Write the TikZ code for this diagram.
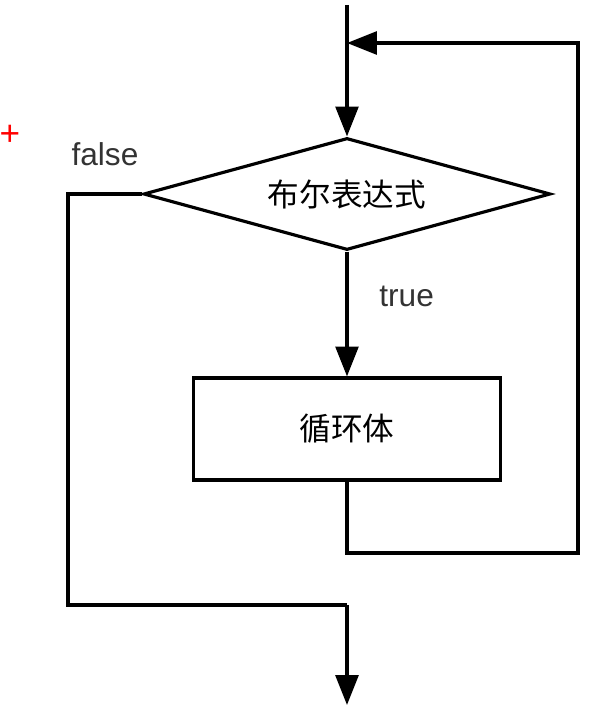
\documentclass[tikz,border=0pt]{standalone}
\usepackage{fontspec}
\setmainfont{Liberation Sans}
\newfontfamily\cjk{Noto Sans CJK SC}
\usetikzlibrary{shapes.geometric, arrows.meta, positioning}

\begin{document}
\begin{tikzpicture}[
    cond/.style={diamond, draw, line width=0.9pt, inner sep=0pt, aspect=3.63, minimum width=4.07cm, minimum height=1.12cm, font=\cjk\fontsize{9}{11}\selectfont, fill=white},
    box/.style={rectangle, draw, line width=0.9pt, minimum width=3.07cm, minimum height=1.02cm, font=\cjk\fontsize{9}{11}\selectfont},
    lbl/.style={font=\fontsize{9}{11}\selectfont, text=black!80},
    line/.style={line width=0.9pt},
    arrow/.style={line width=0.9pt, -{Triangle[length=8.5pt, width=6.5pt]}}
]
\useasboundingbox (0,0) rectangle (6.16,7.18);

% Nodes
\coordinate (start) at (3.47, 7.13);
\node[cond] (test) at (3.47, 5.24) {布尔表达式};
\node[box] (body) at (3.47, 2.89) {循环体};
\coordinate (loopin) at (3.47, 6.75);
\coordinate (loopright) at (5.78, 1.65);
\coordinate (falseleft) at (0.68, 1.13);
\coordinate (stop) at (3.47, 0.13);

% Labels
\node[lbl] at (1.05, 5.64) {false};
\node[lbl, right=0.2cm of test.south, yshift=-0.45cm] {true};
\node[text=red, font=\fontsize{10}{12}\selectfont] at (0.1, 5.83) {+};

% Arrows
\draw[arrow] (start) -- (test);
\draw[arrow] (test) -- (body);
\draw[arrow] (body.south) |- (loopright) |- (loopin);
\draw[line] (test.west) -| (falseleft) -| (3.47, 1.13);
\draw[arrow] (3.47, 1.13) -- (stop);

\end{tikzpicture}
\end{document}
